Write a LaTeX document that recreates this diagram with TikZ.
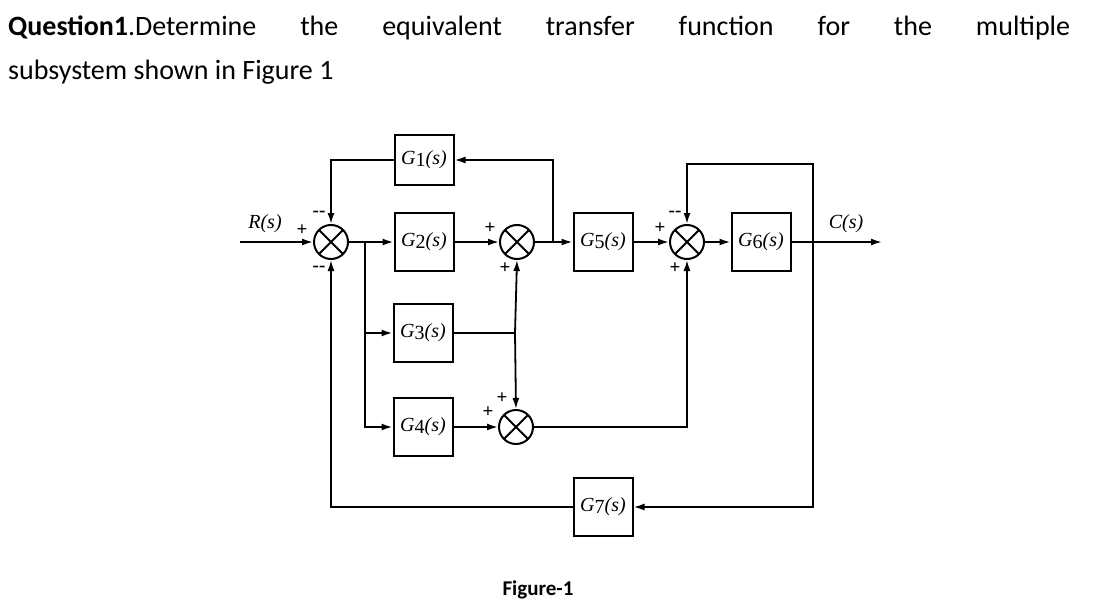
\documentclass[tikz,border=0pt]{standalone}
\usepackage{fontspec}
\newfontfamily\calib{Carlito}
\newfontfamily\tms{Liberation Serif}
\usetikzlibrary{arrows.meta}
\newcommand{\gl}[1]{{\tms\itshape G\raisebox{-2pt}{\upshape #1}(s)}}
\begin{document}
\begin{tikzpicture}[x=1pt,y=-1pt,
  sig/.style={line width=1.8pt,-{Latex[length=11pt,width=7pt]}},
  ln/.style={line width=1.8pt},
  blk/.style={draw,line width=2pt,minimum width=59pt,minimum height=58pt,inner sep=0pt,font=\fontsize{20}{20}\selectfont},
  sum/.style={draw,circle,line width=2pt,minimum size=34pt,inner sep=0pt,path picture={\draw[line width=1.8pt] (path picture bounding box.north west)--(path picture bounding box.south east) (path picture bounding box.north east)--(path picture bounding box.south west);}},
  sg/.style={font=\tms\bfseries\fontsize{19}{19}\selectfont}]
\useasboundingbox (0,0) rectangle (1106,607);
\node[anchor=north west,text width=1062pt,align=justify,inner sep=0pt,font=\calib\fontsize{28}{44}\selectfont] (title) at (8,16) {\textbf{Question1}.Determine the equivalent transfer function for the multiple\linebreak subsystem shown in Figure 1};
\node[sum] (s1) at (331,242) {};
\node[sum] (s2) at (517,242) {};
\node[sum] (s3) at (516,427) {};
\node[sum] (s4) at (687,242) {};
\node[blk,minimum height=50pt] (g1) at (424,160) {\gl{1}};
\node[blk] (g2) at (424,242) {\gl{2}};
\node[blk] (g3) at (423,333) {\gl{3}};
\node[blk] (g4) at (423,427) {\gl{4}};
\node[blk] (g5) at (603,242) {\gl{5}};
\node[blk] (g6) at (761,242) {\gl{6}};
\node[blk] (g7) at (603,507) {\gl{7}};
\coordinate (in) at (240,242);
\coordinate (out) at (882,242);
\coordinate (b1) at (365,242);
\coordinate (b2) at (553,242);
\coordinate (b3) at (515,333);
\coordinate (b6) at (813,242);
\node[font=\tms\itshape\fontsize{20}{20}\selectfont] (R) at (265,224) {R(s)};
\node[font=\tms\itshape\fontsize{20}{20}\selectfont] (C) at (846,224) {C(s)};
\draw[sig] (in) -- (s1);
\draw[ln] (s1) -- (b1);
\draw[sig] (b1) -- (g2);
\draw[sig] (b1) |- (g3);
\draw[sig] (b1) |- (g4);
\draw[sig] (g2) -- (s2);
\draw[ln] (s2) -- (b2);
\draw[sig] (b2) -- (g5);
\draw[sig] (b2) |- (g1.east);
\draw[sig] (g1.west) -| (s1.north);
\draw[ln] (g3) -- (b3);
\draw[sig] (b3) -- (s2.south);
\draw[sig] (b3) -- (s3.north);
\draw[sig] (g4) -- (s3);
\draw[sig] (s3.east) -| (s4.south);
\draw[sig] (g5) -- (s4);
\draw[sig] (s4) -- (g6);
\draw[sig] (g6) -- (out);
\draw[sig] (b6) |- (687,164) -- (s4.north);
\draw[sig] (b6) |- (g7.east);
\draw[sig] (g7.west) -| (s1.south);
\node[sg] at (302,230) {+};
\node[sg] at (319,214) {--};
\node[sg] at (319,269) {--};
\node[sg] at (490,228) {+};
\node[sg] at (505,268) {+};
\node[sg] at (502,398) {+};
\node[sg] at (488,412) {+};
\node[sg] at (660,228) {+};
\node[sg] at (675,214) {--};
\node[sg] at (675,268) {+};
\node[font=\calib\bfseries\fontsize{21}{21}\selectfont] (fig) at (538,590) {Figure-1};
\end{tikzpicture}
\end{document}
